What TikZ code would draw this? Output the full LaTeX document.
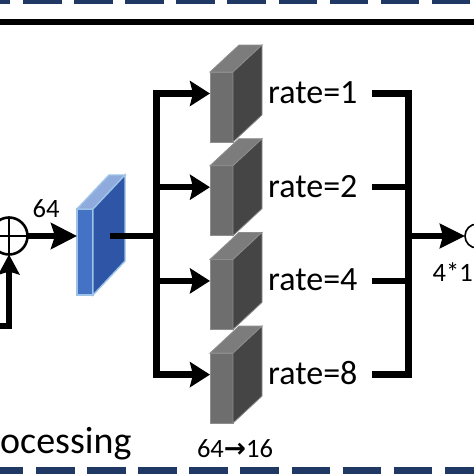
\documentclass[tikz,border=0pt]{standalone}
\usepackage{fontspec}
\setmainfont{Carlito}
\newfontfamily\symfont{DejaVu Sans}
\usetikzlibrary{arrows.meta}
\definecolor{navy}{HTML}{203864}
\definecolor{bfrontc}{HTML}{4472C4}
\definecolor{bsidec}{HTML}{2F56A6}
\definecolor{btopc}{HTML}{8FAADC}
\definecolor{bedgec}{HTML}{9DC3E6}
\definecolor{gfrontc}{HTML}{6E6E6E}
\definecolor{gsidec}{HTML}{454545}
\definecolor{gtopc}{HTML}{7C7C7C}
\definecolor{gedgec}{HTML}{8E8E8E}
\tikzset{
  conn/.style={line width=6.5pt, line join=miter},
  bandline/.style={navy, dash pattern=on 38.5pt off 12.6pt},
  gfront/.style={fill=gfrontc, draw=gedgec, line width=0.8pt, minimum width=23pt, minimum height=70pt, inner sep=0pt, outer sep=0pt},
  gside/.style={fill=gsidec, draw=gedgec, line width=0.8pt},
  gtop/.style={fill=gtopc, draw=gedgec, line width=0.8pt},
  bfront/.style={fill=bfrontc, draw=bedgec, line width=1.4pt, minimum width=16pt, minimum height=86pt, inner sep=0pt, outer sep=0pt},
  bside/.style={fill=bsidec, draw=bedgec, line width=1.4pt},
  btop/.style={fill=btopc, draw=bedgec, line width=1.4pt},
  ratelbl/.style={anchor=base west, inner sep=0pt, font=\fontsize{34}{40}\selectfont},
  smalllbl/.style={inner sep=0pt, font=\fontsize{26.5}{30}\selectfont},
}
\begin{document}
\begin{tikzpicture}[x=1pt,y=-1pt]
\useasboundingbox (0,0) rectangle (474,474);
\clip (0,0) rectangle (474,474);
% bands
\draw[bandline, line width=8pt] (-28.1,0) -- (500,0);
\draw[bandline, line width=14pt] (-15.1,474) -- (500,474);
\draw[line width=6pt] (-5,22) -- (480,22);

% adder
\node[circle, draw, line width=2.6pt, minimum size=37pt, inner sep=0pt, outer sep=0pt] (add) at (9,236) {};
\draw[line width=2.6pt] (add.north) -- (add.south) (add.west) -- (add.east);
\coordinate (fl) at (-5,326);
\coordinate (fb) at (9,326);
\draw[conn, -{Stealth[length=20pt,width=21pt,inset=3pt]}] (fl) -- (fb) -- (add.south);

% blue block
\node[bfront] (bf) at (85,252) {};
\draw[btop] (bf.north west) -- (bf.north east) -- ++(32,-34) -- ++(-16,0) -- cycle;
\draw[bside] (bf.north east) -- ++(32,-34) -- ++(0,86) -- (bf.south east) -- cycle;

\draw[conn, -{Stealth[length=26pt,width=26pt,inset=4pt]}] (add.east) -- (add.east -| bf.west);
\node[smalllbl, anchor=base] (l64) at (46,217) {64};

% gray blocks
\foreach \i/\t in {1/72, 2/165.7, 3/259.4, 4/353.1}{
  \node[gfront] (g\i) at (221.5,\t+35) {};
  \draw[gtop] (g\i.north west) -- (g\i.north east) -- ++(29,-27) -- ++(-23,0) -- cycle;
  \draw[gside] (g\i.north east) -- ++(29,-27) -- ++(0,70) -- (g\i.south east) -- cycle;
  \coordinate (a\i) at (210,\t+21.5);
  \coordinate (c\i) at (156.5,\t+21.5);
  \coordinate (r\i) at (372,\t+21.5);
  \coordinate (q\i) at (408.5,\t+21.5);
  \node[ratelbl] (rt\i) at (268,\t+31.5) {rate=\ifcase\i\or1\or2\or4\or8\fi};
}

% split
\coordinate (bout) at (110,236);
\coordinate (split) at (156.5,236);
\draw[conn] (bout) -- (split);
\draw[conn, {Stealth[length=20pt,width=25pt,inset=3pt]}-{Stealth[length=20pt,width=25pt,inset=3pt]}] (a1) -- (c1) -- (c4) -- (a4);
\draw[conn, -{Stealth[length=20pt,width=25pt,inset=3pt]}] (c2) -- (a2);
\draw[conn, -{Stealth[length=20pt,width=25pt,inset=3pt]}] (c3) -- (a3);

% merge
\draw[conn] (r1) -- (q1) -- (q4) -- (r4);
\draw[conn] (r2) -- (q2);
\draw[conn] (r3) -- (q3);
\node[circle, draw, line width=1.6pt, minimum size=24pt, inner sep=0pt, outer sep=0pt] (cat) at (477,236) {};
\coordinate (merge) at (408.5,236);
\draw[conn, -{Stealth[length=25pt,width=24pt,inset=3pt]}] (merge) -- (cat.west);
\node[smalllbl, anchor=base east] (l416) at (473,281) {4*1};

% bottom labels
\node[smalllbl, anchor=base] (l6416) at (235,457) {64{\symfont\bfseries →}16};
\node[anchor=base west, inner sep=0pt, font=\fontsize{38}{44}\selectfont] (proc) at (0,453) {ocessing};
\end{tikzpicture}
\end{document}
